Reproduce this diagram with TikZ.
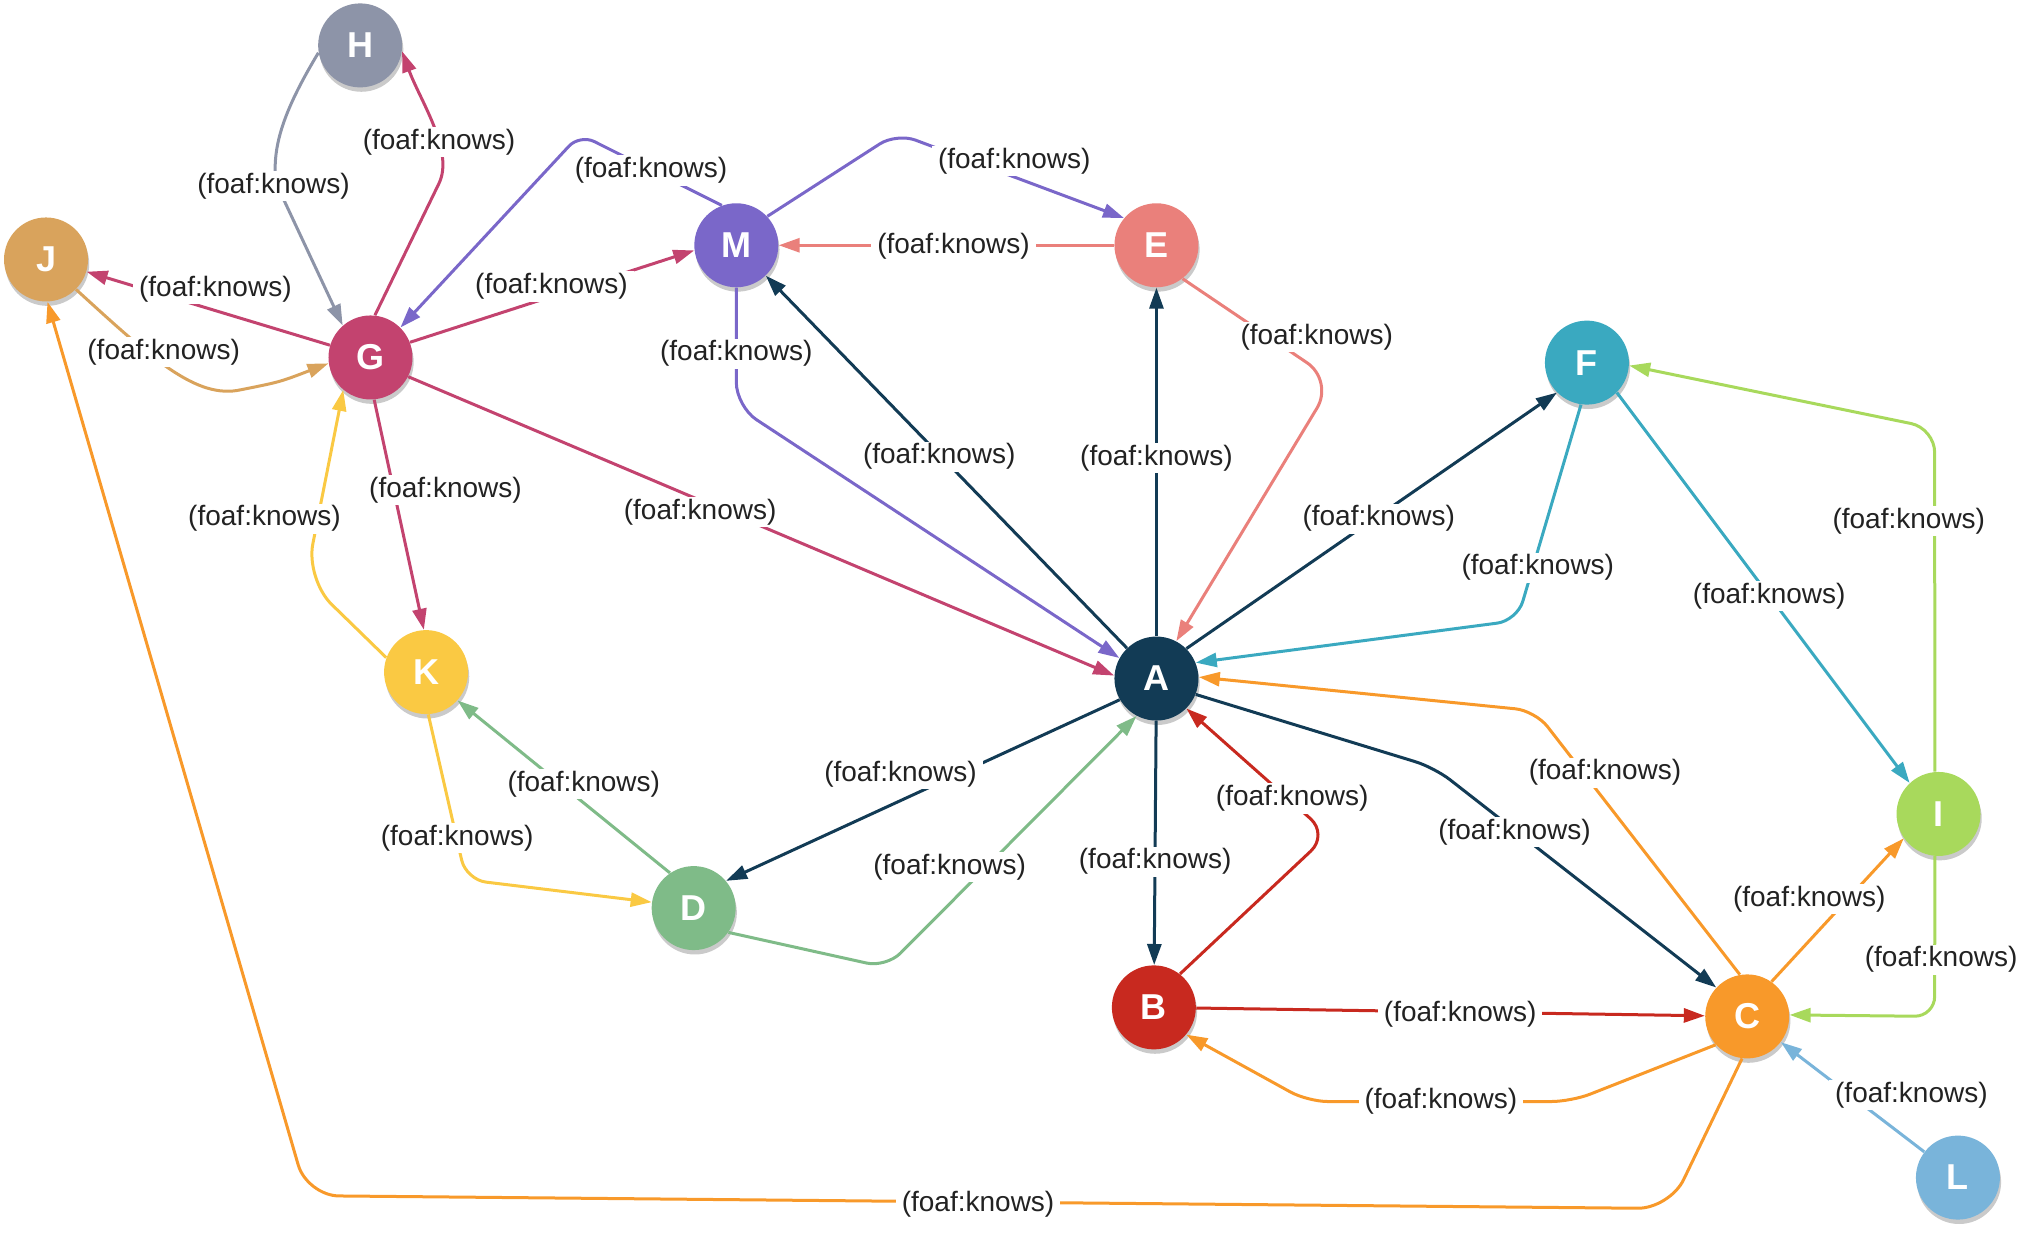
\documentclass[tikz,border=0pt]{standalone}
\usepackage{fontspec}
\setmainfont{Liberation Sans}
\usetikzlibrary{arrows.meta,shadows}
\definecolor{cH}{HTML}{8D94A8}
\definecolor{cJ}{HTML}{D9A35C}
\definecolor{cG}{HTML}{C3436F}
\definecolor{cM}{HTML}{7A67C9}
\definecolor{cE}{HTML}{EA807B}
\definecolor{cF}{HTML}{3AA9C0}
\definecolor{cA}{HTML}{123B55}
\definecolor{cK}{HTML}{FAC943}
\definecolor{cD}{HTML}{7FBB88}
\definecolor{cB}{HTML}{C8291F}
\definecolor{cC}{HTML}{F8992A}
\definecolor{cI}{HTML}{A8D95C}
\definecolor{cL}{HTML}{79B4DA}
\definecolor{txt}{HTML}{222222}
\tikzset{
  person/.style={circle, minimum size=42pt, inner sep=0pt, text=white,
    font=\fontsize{18}{21}\selectfont\bfseries,
    drop shadow={opacity=0.35, shadow xshift=0.6pt, shadow yshift=-2.2pt, fill=black!60}},
  conn/.style={line width=1.5pt, -{Triangle[length=10.5pt,width=7pt]}},
  lbl/.style={fill=white, inner xsep=3pt, inner ysep=1pt, text=txt,
    font=\fontsize{14}{16}\selectfont}
}
\begin{document}
\begin{tikzpicture}[x=0.6464pt, y=-0.6448pt]
\useasboundingbox (-1.6,-2.2) rectangle (1573.4,962.5);
% nodes
\node[person, fill=cH] (H) at (277,33) {H};
\node[person, fill=cJ] (J) at (34,199) {J};
\node[person, fill=cG] (G) at (285,275) {G};
\node[person, fill=cM] (M) at (568,188) {M};
\node[person, fill=cE] (E) at (893,188) {E};
\node[person, fill=cF] (F) at (1226,279) {F};
\node[person, fill=cA] (A) at (893,524) {A};
\node[person, fill=cK] (K) at (328,519) {K};
\node[person, fill=cD] (D) at (535,702) {D};
\node[person, fill=cB] (B) at (891,779) {B};
\node[person, fill=cC] (C) at (1350,786) {C};
\node[person, fill=cI] (I) at (1498,629) {I};
\node[person, fill=cL] (L) at (1513,911) {L};
% edges
\draw[conn,cG] (G.84) -- (338,140) .. controls (350,115) and (323,75) .. (H.-8);
\draw[conn,cH] (H.190) .. controls (220,80) and (208,110) .. (212,140) -- (G.131);
\draw[conn,cM,rounded corners=8pt] (M.110) -- (447,102) -- (G.45);
\draw[conn,cG] (G) -- (J);
\draw[conn,cJ] (J.-45) .. controls (115,275) and (150,308) .. (185,300) .. controls (215,294) .. (G.188);
\draw[conn,cG] (G.21) -- (M.187);
\draw[conn,cG] (G.-27) -- (A.176);
\draw[conn,cG] (G.-85) -- (K.93);
\draw[conn,cK,rounded corners=18pt] (K.160) -- (235,447) -- (G.230);
\draw[conn,cK,rounded corners=10pt] (K.-87) -- (359,680) -- (D.172);
\draw[conn,cD] (D.124) -- (K.-42);
\draw[conn,cA] (A.210) -- (D.40);
\draw[conn,cD,rounded corners=10pt] (D.-35) -- (684,748) -- (A.242);
\draw[conn,cA] (A) -- (M);
\draw[conn,cM,rounded corners=12pt] (M.-90) -- (568,313) -- (A.151);
\draw[conn,cE] (E) -- (M);
\draw[conn,cM,rounded corners=10pt] (M.43) -- (692,101) -- (E.140);
\draw[conn,cA] (A) -- (E);
\draw[conn,cE,rounded corners=16pt] (E.-52) -- (1030,293) -- (A.62);
\draw[conn,cA] (A.45) -- (F.225);
\draw[conn,cF,rounded corners=10pt] (F.-98) -- (1172,479) -- (A.22);
\draw[conn,cF] (F.-45) -- (I.133);
\draw[conn,cI,rounded corners=12pt] (I.95) -- (1495,330) -- (F.-4);
\draw[conn,cA,rounded corners=10pt] (A.-22) -- (1108,593) -- (C.137);
\draw[conn,cC,rounded corners=10pt] (C.100) -- (1186,549) -- (A.2);
\draw[conn,cA] (A) -- (B);
\draw[conn,cB,rounded corners=12pt] (B.52) -- (1026,645) -- (A.-45);
\draw[conn,cB] (B) -- (C);
\draw[conn,cC,rounded corners=10pt] (C.222) -- (1214,852) -- (1010,852) -- (B.-40);
\draw[conn,cC] (C.55) -- (I.215);
\draw[conn,cI,rounded corners=10pt] (I.-95) -- (1495,786) -- (C.2);
\draw[conn,cL] (L) -- (C);
\draw[conn,cC,rounded corners=16pt] (C.-97) -- (1290,935) -- (236,925) -- (J.-88);
% labels
\node[lbl] (l1) at (338,108) {(foaf:knows)};
\node[lbl] (l2) at (210,142) {(foaf:knows)};
\node[lbl] (l3) at (502,130) {(foaf:knows)};
\node[lbl] (l4) at (783,123) {(foaf:knows)};
\node[lbl] (l5) at (165,222) {(foaf:knows)};
\node[lbl] (l6) at (425,220) {(foaf:knows)};
\node[lbl] (l7) at (736,189) {(foaf:knows)};
\node[lbl] (l8) at (125,271) {(foaf:knows)};
\node[lbl] (l9) at (568,272) {(foaf:knows)};
\node[lbl] (l10) at (1017,259) {(foaf:knows)};
\node[lbl] (l11) at (725,352) {(foaf:knows)};
\node[lbl] (l12) at (893,353) {(foaf:knows)};
\node[lbl] (l13) at (343,378) {(foaf:knows)};
\node[lbl] (l14) at (203,400) {(foaf:knows)};
\node[lbl] (l15) at (540,395) {(foaf:knows)};
\node[lbl] (l16) at (1065,400) {(foaf:knows)};
\node[lbl] (l17) at (1188,438) {(foaf:knows)};
\node[lbl] (l18) at (1475,402) {(foaf:knows)};
\node[lbl] (l19) at (1367,460) {(foaf:knows)};
\node[lbl] (l20) at (450,606) {(foaf:knows)};
\node[lbl] (l21) at (695,598) {(foaf:knows)};
\node[lbl] (l22) at (352,648) {(foaf:knows)};
\node[lbl] (l23) at (733,670) {(foaf:knows)};
\node[lbl] (l24) at (998,617) {(foaf:knows)};
\node[lbl] (l25) at (892,666) {(foaf:knows)};
\node[lbl] (l26) at (1240,597) {(foaf:knows)};
\node[lbl] (l27) at (1170,643) {(foaf:knows)};
\node[lbl] (l28) at (1398,695) {(foaf:knows)};
\node[lbl] (l29) at (1500,742) {(foaf:knows)};
\node[lbl] (l30) at (1128,784) {(foaf:knows)};
\node[lbl] (l31) at (1113,852) {(foaf:knows)};
\node[lbl] (l32) at (1477,847) {(foaf:knows)};
\node[lbl] (l33) at (755,932) {(foaf:knows)};
\end{tikzpicture}
\end{document}
